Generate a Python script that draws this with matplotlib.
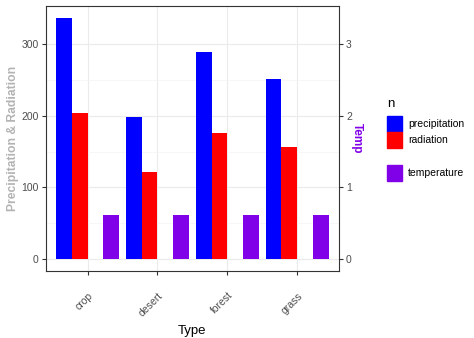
import numpy as np
import matplotlib
matplotlib.use('Agg')
import matplotlib.pyplot as plt
from matplotlib.patches import Patch

plt.rcParams['font.family'] = ['Liberation Sans', 'DejaVu Sans']

# data
types = ['crop', 'desert', 'forest', 'grass']
precipitation = [337, 198, 290, 252]
radiation = [204, 122, 176, 156]
temperature = [0.61, 0.62, 0.61, 0.62]   # plotted on secondary axis (x100)

blue = '#0000ff'
red = '#ff0000'
purple = '#8000e8'

fig = plt.figure(figsize=(4.74, 3.38), dpi=100)
W, H = 474, 338
# panel box in pixels: left 45.6, right 339, top 6, bottom 271
ax = fig.add_axes([45.6 / W, 1 - 271 / H, (339 - 45.6) / W, (271 - 6) / H])

x = np.arange(1, len(types) + 1)
w = 0.225
ax.bar(x - 1.5 * w, precipitation, w, color=blue, zorder=3)
ax.bar(x - 0.5 * w, radiation, w, color=red, zorder=3)
ax.bar(x + 1.5 * w, np.array(temperature) * 100, w, color=purple, zorder=3)

top = max(precipitation)
ax.set_ylim(-0.05 * top, top * 1.05)
ax.set_xlim(0.4, 4.6)

ax.set_yticks([0, 100, 200, 300])
ax.set_yticks([50, 150, 250], minor=True)
ax.set_xticks(x)
ax.set_xticklabels(types, rotation=45, ha='right', va='top', rotation_mode='anchor')
ax.grid(which='major', color='#ebebeb', linewidth=0.8, zorder=0)
ax.grid(which='minor', axis='y', color='#f4f4f4', linewidth=0.5, zorder=0)
ax.tick_params(which='minor', length=0)
ax.tick_params(which='major', length=3, color='#333333', width=0.8,
               labelsize=7.5, labelcolor='#4d4d4d', pad=2)
ax.tick_params(axis='x', pad=11)
for s in ax.spines.values():
    s.set_color('#333333')
    s.set_linewidth(0.8)

ax.set_xlabel('Type', fontsize=9.5, labelpad=5)
ax.set_ylabel('Precipitation & Radiation', fontsize=8.7, color='#b3b3b3',
              fontweight='bold', labelpad=2)

ax2 = ax.twinx()
ax2.set_ylim(ax.get_ylim()[0] / 100, ax.get_ylim()[1] / 100)
ax2.set_yticks([0, 1, 2, 3])
ax2.tick_params(length=3, color='#333333', width=0.8,
                labelsize=7.5, labelcolor='#4d4d4d', pad=2)
for s in ax2.spines.values():
    s.set_visible(False)
ax2.set_ylabel('Temp', fontsize=8.5, color=purple, fontweight='bold',
               rotation=-90, labelpad=8)

# legend
fig.text(387 / W, 1 - 104 / H, 'n', fontsize=9.5, ha='left', va='center')
h1 = [Patch(color=blue), Patch(color=red)]
fig.legend(h1, ['precipitation', 'radiation'],
           loc='upper left', bbox_to_anchor=(387 / W, 1 - 116 / H),
           frameon=False, fontsize=7.5,
           handlelength=1.45, handleheight=1.95, handletextpad=0.55,
           labelspacing=0.0, borderaxespad=0, borderpad=0)
h2 = [Patch(color=purple)]
fig.legend(h2, ['temperature'], loc='upper left',
           bbox_to_anchor=(387 / W, 1 - 165 / H),
           frameon=False, fontsize=7.5,
           handlelength=1.45, handleheight=1.95, handletextpad=0.55,
           borderaxespad=0, borderpad=0)

fig.savefig('out.png', dpi=100)
